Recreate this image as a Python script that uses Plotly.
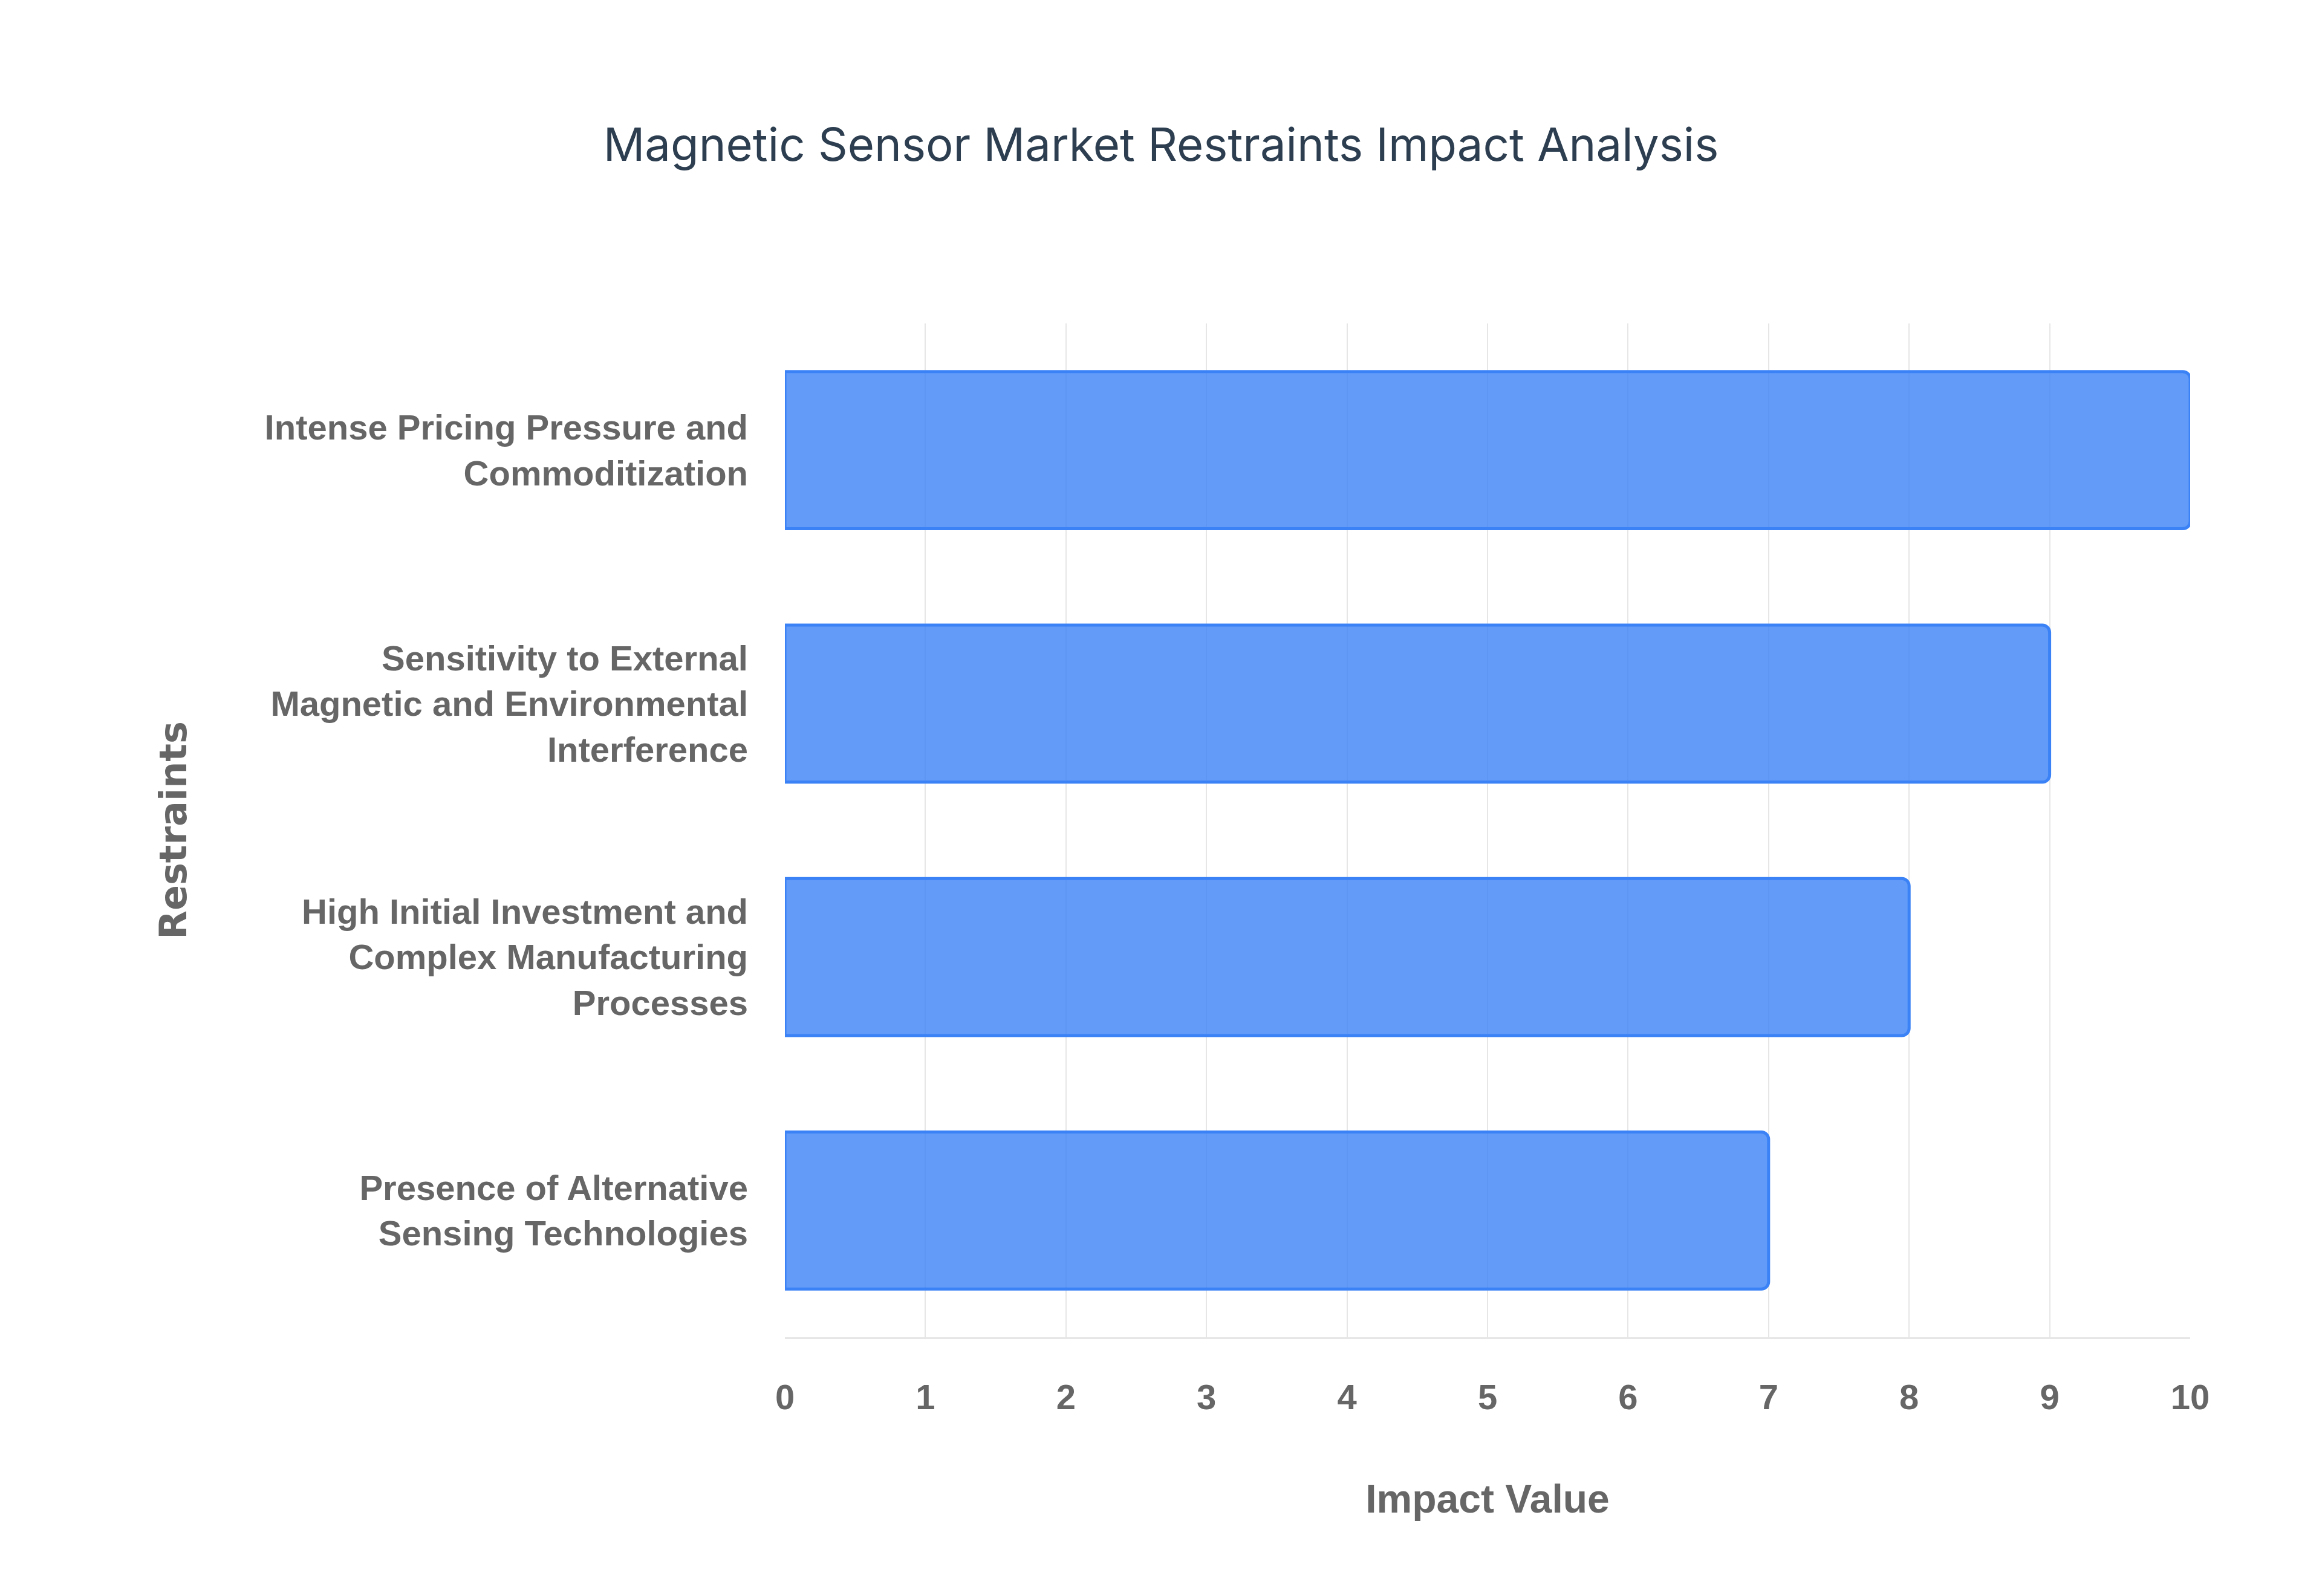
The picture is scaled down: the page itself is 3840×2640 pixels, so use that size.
import plotly.graph_objects as go

# restraint categories, top to bottom
restraints = [
    "Intense Pricing Pressure and<br>Commoditization",
    "Sensitivity to External<br>Magnetic and Environmental<br>Interference",
    "High Initial Investment and<br>Complex Manufacturing<br>Processes",
    "Presence of Alternative<br>Sensing Technologies",
]
impact = [10, 9, 8, 7]

x_ticks = list(range(0, 11))

fig = go.Figure()

fig.add_trace(go.Bar(
    x=impact,
    y=restraints,
    orientation="h",
    marker=dict(
        color="rgba(59,130,246,0.8)",
        line=dict(color="#3b82f6", width=5),
        cornerradius=12,
    ),
    showlegend=False,
))

fig.update_layout(
    title=dict(
        text="Magnetic Sensor Market Restraints Impact Analysis",
        x=0.5, xanchor="center",
        y=0.912, yanchor="middle",
        font=dict(family="Inter", size=76, color="#2c3e50"),
    ),
    plot_bgcolor="white",
    paper_bgcolor="white",
    margin=dict(l=1290, r=210, t=527, b=420),
    bargap=0.38,
)

fig.update_xaxes(
    range=[0, 10],
    tickvals=x_ticks,
    showgrid=True,
    gridcolor="#e6e6e6",
    gridwidth=2,
    zeroline=False,
    showline=True,
    linecolor="#e6e6e6",
    linewidth=3,
    ticklabelstandoff=46,
    tickfont=dict(family="Liberation Sans", size=58, color="#666666", weight="bold"),
    title=dict(
        text="Impact Value",
        standoff=115,
        font=dict(family="Liberation Sans", size=66, color="#666666", weight="bold"),
    ),
)

fig.update_yaxes(
    categoryorder="array",
    categoryarray=restraints[::-1],
    showgrid=False,
    zeroline=False,
    ticklabelstandoff=60,
    tickfont=dict(family="Liberation Sans", size=58, color="#666666", weight="bold"),
    title=dict(
        text="Restraints",
        standoff=108,
        font=dict(family="DejaVu Sans", size=62, color="#666666", weight="bold"),
    ),
)

fig.write_html("out.html")
